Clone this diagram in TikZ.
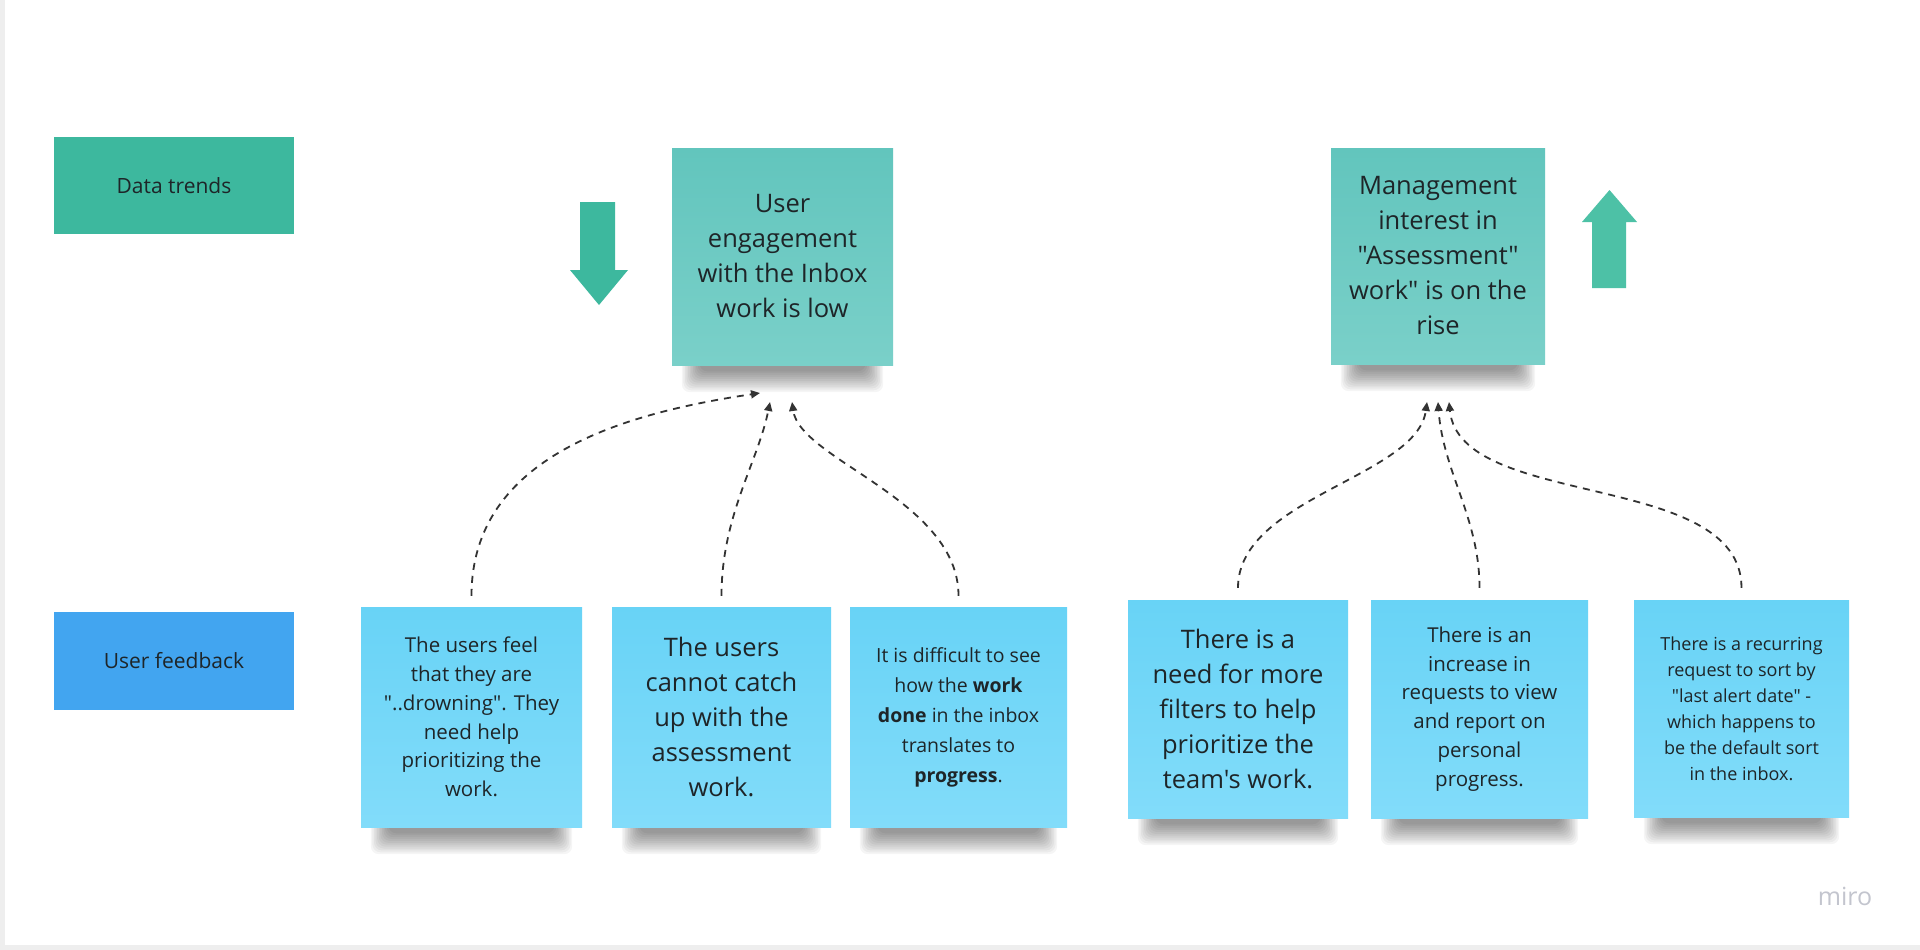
\documentclass[tikz,border=0pt]{standalone}
\usepackage{fontspec}
\setmainfont{Open Sans}[Ligatures=TeXOff]
\usetikzlibrary{arrows.meta,backgrounds}
\definecolor{trendc}{HTML}{3DB89E}
\definecolor{feedc}{HTML}{42A5F0}
\definecolor{tealtop}{HTML}{62C5BD}
\definecolor{tealbot}{HTML}{7AD0C9}
\definecolor{bluetop}{HTML}{68D3F6}
\definecolor{bluebot}{HTML}{82DCFA}
\definecolor{textc}{HTML}{1E2528}
\definecolor{linec}{HTML}{333333}
\definecolor{arrowup}{HTML}{4DC1A6}
\definecolor{miroc}{HTML}{C3C5CE}
\definecolor{framec}{HTML}{EEEEEE}
\newcommand\stickyshadow[1]{%
  \foreach \i in {0,...,11} {%
    \pgfmathsetmacro\shdx{10+\i*1.6}%
    \pgfmathsetmacro\shdy{27-\i*1.9}%
    \fill[black, opacity=0.04, rounded corners=8pt]
      ([xshift=\shdx pt, yshift=20pt]#1.south west) rectangle
      ([xshift=-\shdx pt, yshift=-\shdy pt]#1.south east);
  }%
}
\begin{document}
\begin{tikzpicture}[x=1pt,y=-1pt,
  catbox/.style={rectangle, inner sep=0pt, minimum width=240pt, minimum height=97pt,
    font=\fontsize{21}{26}\selectfont, text=textc},
  sticky/.style={rectangle, inner sep=0pt, align=center, text=textc},
  tealsticky/.style={sticky, top color=tealtop, bottom color=tealbot},
  bluesticky/.style={sticky, top color=bluetop, bottom color=bluebot},
  big/.style={font=\fontsize{25.5}{35}\selectfont},
  mid/.style={font=\fontsize{20.5}{28.7}\selectfont},
  small/.style={font=\fontsize{19.5}{30}\selectfont},
  tiny/.style={font=\fontsize{18}{26}\selectfont},
  conn/.style={draw=linec, line width=1.8pt, dash pattern=on 7pt off 6pt,
    -{Triangle[length=9pt,width=8pt]}}
]
\useasboundingbox (0,0) rectangle (1920,950);

% category boxes
\node[catbox, fill=trendc] (dt) at (174,185.5) {Data trends};
\node[catbox, fill=feedc, minimum height=98pt] (uf) at (174,661) {User feedback};

% trend arrows
\fill[trendc] (580,202) -- (615,202) -- (615,270) -- (628,270) -- (599,305)
  -- (570,270) -- (580,270) -- cycle;
\fill[arrowup] (1592,288) -- (1626,288) -- (1626,222) -- (1637,222) -- (1609.5,190)
  -- (1582,222) -- (1592,222) -- cycle;

% top stickies
\node[tealsticky, big, minimum width=221pt, minimum height=217pt] (eng) at (782.5,256.5)
  {User\\engagement\\with the Inbox\\work is low};
\node[tealsticky, big, minimum width=214pt, minimum height=216pt] (mgmt) at (1438,256)
  {Management\\interest in\\"Assessment"\\work" is on the\\rise};

% bottom stickies
\node[bluesticky, mid, minimum width=221pt, minimum height=220pt] (s1) at (471.5,717)
  {The users feel\\that they are\\"..drowning". They\\need help\\prioritizing the\\work.};
\node[bluesticky, big, minimum width=219pt, minimum height=220pt] (s2) at (721.5,717)
  {The users\\cannot catch\\up with the\\assessment\\work.};
\node[bluesticky, small, minimum width=217pt, minimum height=220pt] (s3) at (958.5,717)
  {It is difficult to see\\how the \textbf{work}\\\textbf{done} in the inbox\\translates to\\\textbf{progress}.};
\node[bluesticky, big, minimum width=220pt, minimum height=218pt] (s4) at (1238,709)
  {There is a\\need for more\\filters to help\\prioritize the\\team's work.};
\node[bluesticky, mid, minimum width=217pt, minimum height=218pt] (s5) at (1479.5,709)
  {There is an\\increase in\\requests to view\\and report on\\personal\\progress.};
\node[bluesticky, tiny, minimum width=215pt, minimum height=217pt] (s6) at (1741.5,708.5)
  {There is a recurring\\request to sort by\\"last alert date" -\\which happens to\\be the default sort\\in the inbox.};

% shadows and frame behind everything
\begin{scope}[on background layer]
  \fill[white] (0,0) rectangle (1920,950);
  \fill[framec] (0,0) rectangle (5,950);
  \fill[framec] (0,945) rectangle (1920,950);
  \stickyshadow{eng}
  \stickyshadow{mgmt}
  \stickyshadow{s1}
  \stickyshadow{s2}
  \stickyshadow{s3}
  \stickyshadow{s4}
  \stickyshadow{s5}
  \stickyshadow{s6}
\end{scope}

% connector end points
\coordinate (e1) at (760,393);
\coordinate (e2) at (770,402);
\coordinate (e3) at (792,402);
\coordinate (e4) at (1427,402);
\coordinate (e5) at (1438,402);
\coordinate (e6) at (1449,402);

\draw[conn] ([yshift=11pt]s1.north) .. controls +(0,-140) and +(-135,20) .. (e1);
\draw[conn] ([yshift=11pt]s2.north) .. controls +(0,-80) and +(-12,60) .. (e2);
\draw[conn] ([yshift=11pt]s3.north) .. controls +(0,-96) and +(8,58) .. (e3);
\draw[conn] ([yshift=12pt]s4.north) .. controls +(0,-90) and +(-10,75) .. (e4);
\draw[conn] ([yshift=12pt]s5.north) .. controls +(0,-70) and +(5,70) .. (e5);
\draw[conn] ([yshift=12pt]s6.north) .. controls +(0,-118) and +(11,108) .. (e6);

% logo
\node[text=miroc, font=\fontsize{25}{25}\selectfont] (miro) at (1845,896) {miro};
\end{tikzpicture}
\end{document}
